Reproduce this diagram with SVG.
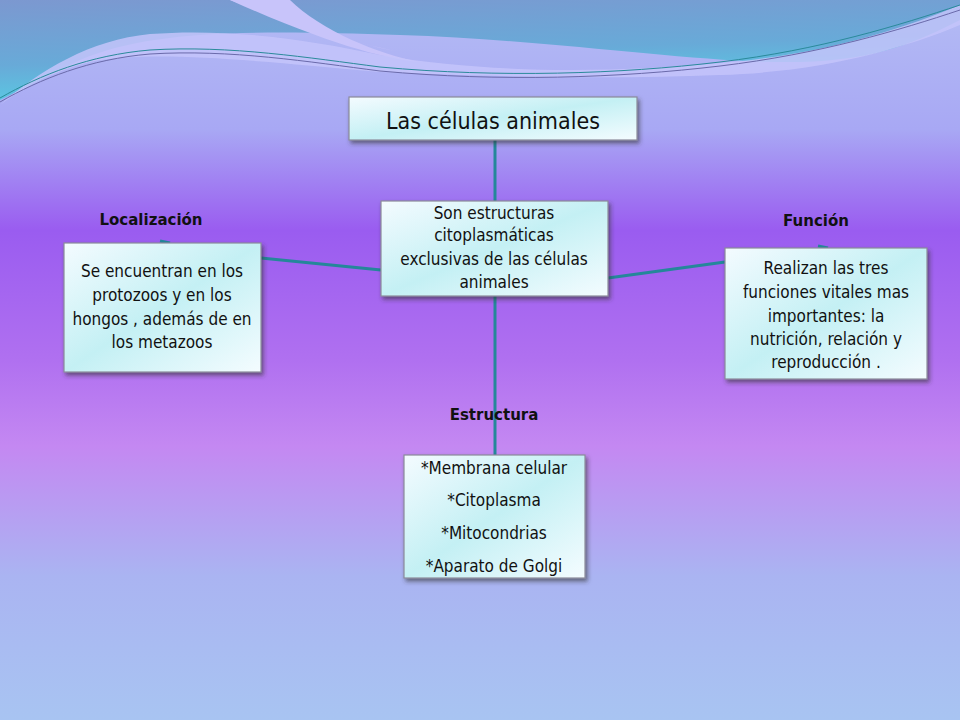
<svg xmlns="http://www.w3.org/2000/svg" width="960" height="720" viewBox="0 0 960 720">
<defs>
<linearGradient id="bg" x1="0" y1="0" x2="0" y2="1">
<stop offset="0" stop-color="#b4bcf4"/><stop offset="0.18" stop-color="#a8a8f4"/><stop offset="0.32" stop-color="#9a5cf0"/><stop offset="0.5" stop-color="#b070f0"/><stop offset="0.62" stop-color="#c488f2"/><stop offset="0.8" stop-color="#aab4f2"/><stop offset="1" stop-color="#a8c4f2"/>
</linearGradient>
<linearGradient id="wave1" x1="0" y1="0" x2="0.3" y2="1">
<stop offset="0" stop-color="#7c98d0"/><stop offset="0.6" stop-color="#68aad8"/><stop offset="1" stop-color="#58cce4"/>
</linearGradient>
<linearGradient id="box" x1="0" y1="0" x2="1" y2="1">
<stop offset="0" stop-color="#f4fbff"/><stop offset="0.5" stop-color="#c4f0f4"/><stop offset="1" stop-color="#f4fcff"/>
</linearGradient>
<filter id="sh" x="-10%" y="-10%" width="130%" height="130%"><feDropShadow dx="2" dy="3" stdDeviation="2" flood-color="#333" flood-opacity="0.6"/></filter>
<style>
.b{fill:url(#box);stroke:#8a8a9a;stroke-width:1.2;filter:url(#sh)}
.t{font-family:"DejaVu Sans Condensed","DejaVu Sans",sans-serif;font-size:17px;fill:#111;text-anchor:middle}
.big{font-size:23px}
.l{font-family:"DejaVu Sans",sans-serif;font-size:15px;font-weight:bold;fill:#111;text-anchor:middle}
.c{stroke:#24879a;stroke-width:3;fill:none}
</style>
</defs>
<rect width="960" height="720" fill="url(#bg)"/>
<path d="M0 0H960V20C920 40 880 60 800 62C700 64 560 40 400 35C250 30 150 30 80 60C40 80 10 95 0 100Z" fill="url(#wave1)"/>
<path d="M230 0C300 30 360 45 400 52C480 62 560 70 700 72C800 72 880 50 960 15V0Z" fill="#9cb4e4" opacity="0"/>
<path d="M230 0C300 25 340 40 400 52C340 40 280 20 260 0Z" fill="#c8c4fa"/>
<path d="M230 0C330 45 390 60 420 62C380 55 320 30 290 0Z" fill="#c8c4fa"/>
<path d="M0 105C40 70 100 38 150 33C250 25 330 40 420 60C380 50 330 30 300 0H960V0C900 40 800 60 720 62C860 70 900 50 960 20V0Z" fill="none"/>
<path d="M0 105C40 70 90 40 150 34C230 28 310 40 380 55C500 75 620 72 720 63C820 55 900 30 960 5V25C900 50 820 72 720 75C600 80 480 76 380 72C250 60 150 50 90 62C50 72 20 90 0 105Z" fill="#c4c4fa" opacity="0.85"/>
<path d="M0 98C40 75 90 55 150 50C230 45 310 58 380 67C500 78 620 74 720 62C820 50 900 25 960 5" stroke="#2a8a9a" stroke-width="1" fill="none"/>
<path d="M0 102C40 79 90 59 150 54C230 49 310 62 380 71C500 82 620 78 720 66C820 54 900 30 960 10" stroke="#6a6aaa" stroke-width="1" fill="none"/>
<g id="connectors">
<path class="c" d="M495 140V455"/>
<path class="c" d="M381 270L261 258"/>
<path class="c" d="M608 278L725 262"/>
<path class="c" d="M160 241L170 243"/>
<path class="c" d="M818 246L828 248"/>
</g>
<g id="n-top"><rect class="b" x="349" y="97" width="288" height="43"/><text class="t big" x="493" y="129">Las células animales</text></g>
<g id="n-center"><rect class="b" x="381" y="201" width="227" height="95"/>
<text class="t" x="494" y="219">Son estructuras</text><text class="t" x="494" y="241">citoplasmáticas</text><text class="t" x="494" y="265">exclusivas de las células</text><text class="t" x="494" y="288">animales</text></g>
<g id="n-loc"><text class="l" x="151" y="225">Localización</text><rect class="b" x="64" y="243" width="197" height="129"/>
<text class="t" x="162" y="277">Se encuentran en los</text><text class="t" x="162" y="301">protozoos y en los</text><text class="t" x="162" y="325">hongos , además de en</text><text class="t" x="162" y="348">los metazoos</text></g>
<g id="n-fun"><text class="l" x="816" y="226">Función</text><rect class="b" x="725" y="248" width="202" height="131"/>
<text class="t" x="826" y="274">Realizan las  tres</text><text class="t" x="826" y="298">funciones vitales mas</text><text class="t" x="826" y="322">importantes: la</text><text class="t" x="826" y="345">nutrición, relación y</text><text class="t" x="826" y="368">reproducción .</text></g>
<g id="n-est"><text class="l" x="494" y="420">Estructura</text><rect class="b" x="404" y="455" width="181" height="123"/>
<text class="t" x="494" y="474">*Membrana celular</text><text class="t" x="494" y="506">*Citoplasma</text><text class="t" x="494" y="539">*Mitocondrias</text><text class="t" x="494" y="572">*Aparato de Golgi</text></g>
</svg>
